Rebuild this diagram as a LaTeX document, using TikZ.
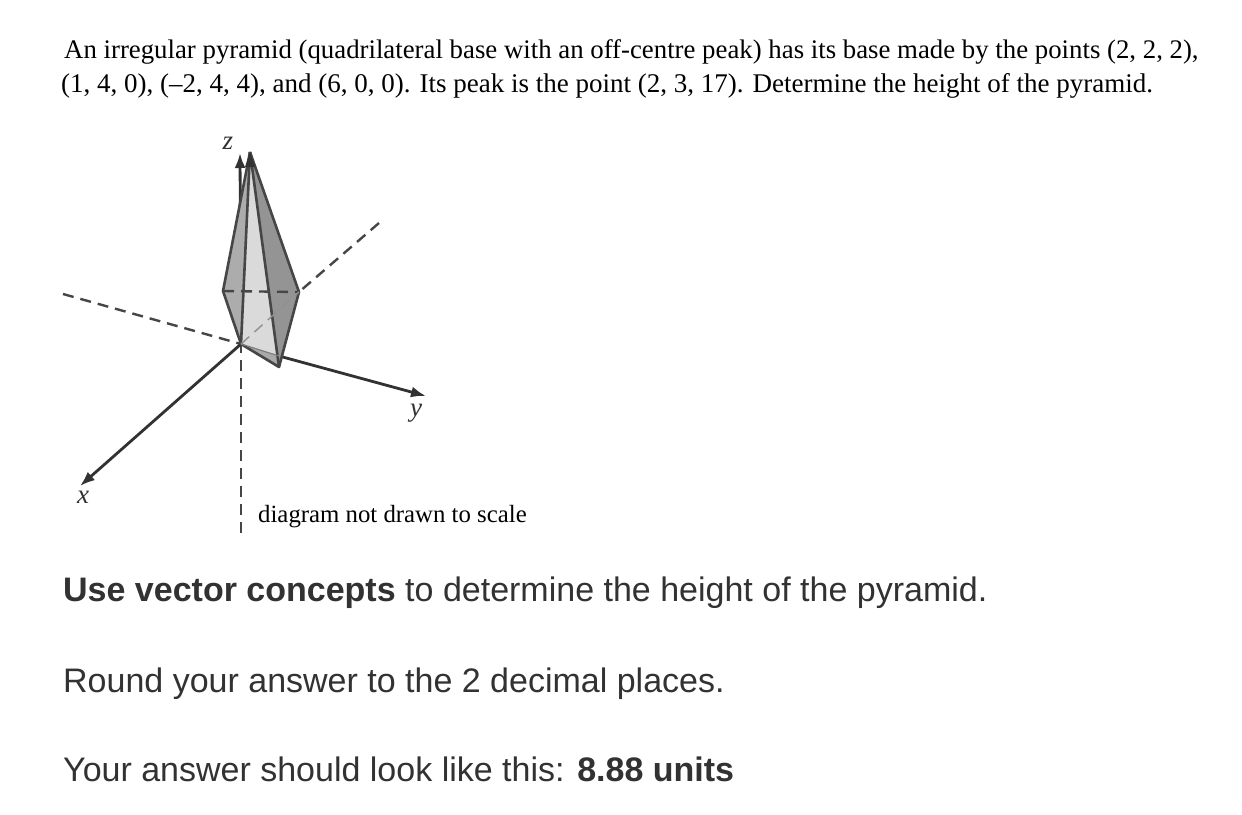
\documentclass[tikz,border=0pt]{standalone}
\usepackage{fontspec}
\setmainfont{Liberation Serif}
\newfontfamily\webfont{Liberation Sans}
\usetikzlibrary{arrows.meta}
\definecolor{edgegray}{RGB}{70,70,70}
\definecolor{axisgray}{RGB}{50,50,50}
\definecolor{webgray}{RGB}{50,50,50}
\definecolor{faceleft}{RGB}{172,172,172}
\definecolor{facefront}{RGB}{218,218,218}
\definecolor{faceright}{RGB}{148,148,148}
\tikzset{
  qtext/.style={anchor=base west,inner sep=0pt,text=black,font=\fontsize{26.8}{30}\selectfont},
  webtext/.style={anchor=base west,inner sep=0pt,text=webgray,font=\webfont\fontsize{34}{40}\selectfont},
  axislabel/.style={inner sep=0pt,text=axisgray,font=\fontsize{27}{30}\selectfont\itshape},
  axisline/.style={draw=axisgray,line width=2.8pt,-{Latex[length=15pt,width=11pt]}},
  hiddenline/.style={draw=edgegray,line width=2.4pt,dash pattern=on 11pt off 7pt},
  edgeline/.style={draw=edgegray,line width=2.6pt,line join=round}
}
\begin{document}
\begin{tikzpicture}[x=1pt,y=-1pt]
\useasboundingbox[fill=white] (0,0) rectangle (1242,814);
% Points
\coordinate (origin) at (241,344);
\coordinate (peak) at (250,152);
\coordinate (baseleft) at (223,291);
\coordinate (baseright) at (299,292);
\coordinate (basefront) at (279,367);
\coordinate (baseinner) at (279,356);
\coordinate (ztip) at (240,153);
\coordinate (ytip) at (426,396);
\coordinate (xtip) at (80,486);
\coordinate (yfree) at (379,223);
\coordinate (yback) at (63,294);
\coordinate (zdown) at (241,533);

% Axes behind the pyramid
\draw[hiddenline] (yback) -- (origin);
\draw[hiddenline] (yfree) -- (baseright);
\draw[hiddenline] (zdown) -- (origin);
\draw[axisline] (origin) -- (xtip);
\draw[axisline] (baseinner) -- (ytip);
\draw[axisline] (origin) -- (ztip);

% Faces
\fill[faceleft] (peak) -- (baseleft) -- (origin) -- cycle;
\fill[facefront] (peak) -- (origin) -- (basefront) -- cycle;
\fill[faceright] (peak) -- (basefront) -- (baseright) -- cycle;
\fill[faceright!70!facefront] (origin) -- (baseinner) -- (basefront) -- cycle;

% Edges
\draw[edgeline] (peak) -- (baseleft) -- (origin) -- (basefront) -- (baseright) -- (peak);
\draw[edgeline] (peak) -- (origin);
\draw[edgeline] (peak) -- (basefront);
\draw[edgeline,line width=1.2pt,draw=edgegray!70] (origin) -- (baseinner);
\draw[hiddenline] (baseleft) -- (baseright);
\draw[hiddenline,line width=1.4pt,draw=edgegray!60] (origin) -- (baseright);
\fill[axisgray] (peak) ++(-5,15) -- (peak) -- ++(5,15) -- cycle;

% Labels
\node[axislabel] (zlabel) at (228,143) {z};
\node[axislabel] (ylabel) at (416,413) {y};
\node[axislabel] (xlabel) at (83,497) {x};
\node[anchor=base west,inner sep=0pt,font=\fontsize{24.8}{28}\selectfont] (note) at (258,522) {diagram not drawn to scale};

% Question text
\node[qtext] (lineone) at (64,58) {An irregular pyramid (quadrilateral base with an off-centre peak) has its base made by the points (2, 2, 2),};
\node[qtext,font=\fontsize{27}{30}\selectfont] (linetwo) at (61,92) {(1, 4, 0), (--2, 4, 4), and (6, 0, 0). Its peak is the point (2, 3, 17). Determine the height of the pyramid.};
\node[webtext] (useconcepts) at (63,601) {\textbf{Use vector concepts} to determine the height of the pyramid.};
\node[webtext] (roundanswer) at (63,692) {Round your answer to the 2 decimal places.};
\node[webtext] (lookslike) at (63,781) {Your answer should look like this: \textbf{8.88 units}};
\end{tikzpicture}
\end{document}
